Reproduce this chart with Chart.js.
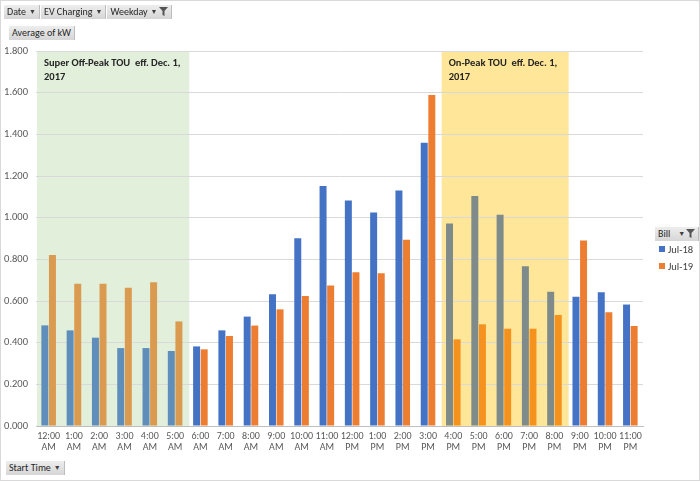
<!DOCTYPE html>
<html lang="en">
<head>
<meta charset="UTF-8">
<title>Average of kW by Start Time</title>
<script src="https://cdn.jsdelivr.net/npm/chart.js"></script>
<style>
    html, body { margin: 0; padding: 0; background: #fff; }
    #wrap { position: relative; width: 700px; height: 481px; box-sizing: border-box; border: 1px solid #D9D9D9; overflow: hidden; font-family: Carlito, Calibri, Lato, sans-serif; }
    canvas { position: absolute; left: -1px; top: -1px; }
    .row { position: absolute; display: flex; gap: 1px; }
    .btn { height: 14px; line-height: 14px; font-size: 10px; color: #262626; background: linear-gradient(#EDEDED, #D6D6D6); border-right: 1px solid #BDBDBD; padding: 0 3px; white-space: nowrap; box-sizing: content-box; }
    .row > .btn { position: static; }
    .solo { position: absolute; }
    .arr { font-size: 7px; color: #404040; margin-left: 3px; vertical-align: 1px; }
    .legend { position: absolute; left: 658px; font-size: 10.5px; color: #404040; }
    .legend span.sw { display: inline-block; width: 6px; height: 6px; margin-right: 3px; vertical-align: 1px; }
</style>
</head>
<body>
<div id="wrap">
    <canvas id="grafico" width="700" height="481"></canvas>
    <div class="row" style="left:3px;top:4px;">
        <div class="btn">Date<span class="arr">&#9660;</span></div>
        <div class="btn">EV Charging<span class="arr">&#9660;</span></div>
        <div class="btn">Weekday<span class="arr">&#9660;</span><svg width="9" height="9" viewBox="0 0 9 9" style="vertical-align:-1px;margin-left:1px"><polygon points="0,0 9,0 5.5,4 5.5,9 3.5,8 3.5,4" fill="#555"/></svg></div>
    </div>
    <div class="btn solo" style="left:8px;top:25px;">Average of kW</div>
    <div class="btn solo" style="left:5px;top:460px;">Start Time<span class="arr">&#9660;</span></div>
    <div class="btn solo" style="left:654px;top:226px;">Bill<span class="arr" style="margin-left:8px">&#9660;</span><svg width="9" height="9" viewBox="0 0 9 9" style="vertical-align:-1px;margin-left:1px"><polygon points="0,0 9,0 5.5,4 5.5,9 3.5,8 3.5,4" fill="#555"/></svg></div>
    <div class="legend" id="leg1" style="top:242px;"></div>
    <div class="legend" id="leg2" style="top:259px;"></div>
</div>

<script>
// categories (start time of day)
const horas = [
    ['12:00','AM'], ['1:00','AM'], ['2:00','AM'], ['3:00','AM'], ['4:00','AM'], ['5:00','AM'],
    ['6:00','AM'], ['7:00','AM'], ['8:00','AM'], ['9:00','AM'], ['10:00','AM'], ['11:00','AM'],
    ['12:00','PM'], ['1:00','PM'], ['2:00','PM'], ['3:00','PM'], ['4:00','PM'], ['5:00','PM'],
    ['6:00','PM'], ['7:00','PM'], ['8:00','PM'], ['9:00','PM'], ['10:00','PM'], ['11:00','PM']
];

// average kW per bill month
const jul18 = [0.483, 0.459, 0.424, 0.374, 0.374, 0.360, 0.382, 0.459, 0.525, 0.632, 0.901, 1.152,
               1.083, 1.025, 1.130, 1.360, 0.972, 1.104, 1.014, 0.767, 0.645, 0.621, 0.642, 0.583];
const jul19 = [0.821, 0.683, 0.683, 0.664, 0.690, 0.502, 0.368, 0.432, 0.482, 0.560, 0.624, 0.675,
               0.738, 0.733, 0.894, 1.589, 0.416, 0.488, 0.467, 0.467, 0.533, 0.891, 0.546, 0.480];

const serieNomes = ['Jul-18', 'Jul-19'];
const yTicks = [0, 0.2, 0.4, 0.6, 0.8, 1.0, 1.2, 1.4, 1.6, 1.8];

// TOU periods (first and last hour index)
const periodos = [
    { texto: ['Super Off-Peak TOU  eff. Dec. 1,', '2017'], de: 0, ate: 5, cor: '#E2EFDA', azul: '#5E8EB9', laranja: '#DA9A50' },
    { texto: ['On-Peak TOU  eff. Dec. 1,', '2017'], de: 16, ate: 20, cor: '#FFE699', azul: '#7F8B8A', laranja: '#F5921E' }
];

const AZUL = '#4472C4', LARANJA = '#ED7D31';

function coresDe(base, chave) {
    return horas.map((h, i) => {
        const p = periodos.find(p => i >= p.de && i <= p.ate);
        return p ? p[chave] : base;
    });
}

const FONTE = 'Carlito, Calibri, Lato, sans-serif';

const faixas = {
    id: 'faixas',
    beforeDraw(chart) {
        const { ctx, chartArea, scales } = chart;
        const x = scales.x;
        ctx.save();
        periodos.forEach(p => {
            const x0 = Math.max(chartArea.left, x.getPixelForValue(p.de - 0.5) + 1);
            const x1 = x.getPixelForValue(p.ate + 0.5) + 1.5;
            ctx.fillStyle = p.cor;
            ctx.fillRect(x0, chartArea.top, x1 - x0, chartArea.bottom - chartArea.top);
            ctx.fillStyle = '#262626';
            ctx.font = 'bold 10.5px ' + FONTE;
            ctx.textBaseline = 'alphabetic';
            p.texto.forEach((t, k) => ctx.fillText(t, x0 + 7, chartArea.top + 15 + k * 13.5));
        });
        ctx.restore();
    }
};

document.getElementById('leg1').innerHTML = '<span class="sw" style="background:' + AZUL + '"></span>' + serieNomes[0];
document.getElementById('leg2').innerHTML = '<span class="sw" style="background:' + LARANJA + '"></span>' + serieNomes[1];

const ctx = document.getElementById('grafico').getContext('2d');
new Chart(ctx, {
    type: 'bar',
    data: {
        labels: horas,
        datasets: [
            { label: serieNomes[0], data: jul18, backgroundColor: coresDe(AZUL, 'azul'), categoryPercentage: 0.6, barPercentage: 0.92 },
            { label: serieNomes[1], data: jul19, backgroundColor: coresDe(LARANJA, 'laranja'), categoryPercentage: 0.6, barPercentage: 0.92 }
        ]
    },
    options: {
        responsive: false,
        animation: false,
        layout: { padding: { left: 0, top: 51, right: 57, bottom: 0 } },
        plugins: { legend: { display: false }, tooltip: { enabled: false } },
        scales: {
            x: {
                afterFit(s) { s.height = 55; },
                grid: { display: false, drawTicks: false },
                border: { color: '#BFBFBF' },
                ticks: { color: '#595959', font: { family: FONTE, size: 10, lineHeight: 1.1 }, padding: 5, maxRotation: 0, autoSkip: false }
            },
            y: {
                min: 0,
                max: 1.8,
                afterFit(s) { s.width = 36; },
                afterBuildTicks(s) { s.ticks = yTicks.map(v => ({ value: v })); },
                grid: { color: '#D9D9D9', drawTicks: false },
                border: { display: false },
                ticks: { color: '#595959', font: { family: FONTE, size: 10.5 }, padding: 8, callback: v => v.toFixed(3) }
            }
        }
    },
    plugins: [faixas]
});
</script>
</body>
</html>
